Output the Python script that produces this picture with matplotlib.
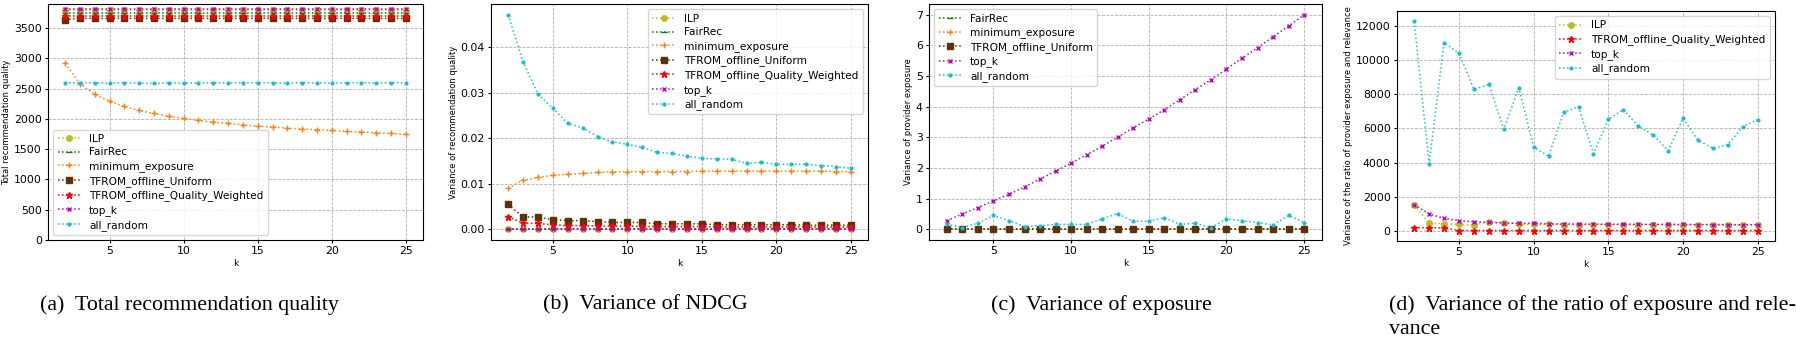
import numpy as np
import matplotlib.pyplot as plt

k = list(range(2, 26))

# (a) total recommendation quality
quality_ilp = [3808] * 24
quality_fairrec = [3752] * 24
quality_min_exp = [2917, 2586, 2405, 2295, 2207, 2141, 2091, 2042, 2009, 1976, 1948, 1926,
                   1904, 1882, 1866, 1849, 1833, 1822, 1811, 1794, 1783, 1772, 1761, 1744]
quality_tfrom_u = [3643] + [3662] * 23
quality_tfrom_qw = [3703] * 24
quality_top_k = [3813] * 24
quality_random = [2600, 2595, 2600, 2590, 2600, 2592, 2588, 2598, 2592, 2598, 2597, 2596,
                  2600, 2597, 2598, 2592, 2600, 2598, 2592, 2598, 2600, 2593, 2600, 2600]

# (b) variance of NDCG
ndcg_ilp = [0.0] * 24
ndcg_fairrec = [0.0] * 24
ndcg_min_exp = [0.0090, 0.0108, 0.0114, 0.0119, 0.0121, 0.0123, 0.0125, 0.0126, 0.0127, 0.0127,
                0.0127, 0.0127, 0.0127, 0.0128, 0.0128, 0.0128, 0.0128, 0.0128, 0.0128, 0.0128,
                0.0128, 0.0128, 0.0127, 0.0127]
ndcg_tfrom_u = [0.0055, 0.0027, 0.0027, 0.0021, 0.0019, 0.0019, 0.0017, 0.0015, 0.0015, 0.0015,
                0.0012, 0.0012, 0.0012, 0.0012, 0.0010, 0.0010, 0.0010, 0.0010, 0.0010, 0.0010,
                0.0009, 0.0009, 0.0009, 0.0009]
ndcg_tfrom_qw = [0.0028, 0.0013, 0.0013, 0.0010, 0.0008, 0.0008, 0.0007, 0.0007, 0.0007, 0.0006,
                 0.0006, 0.0006, 0.0006, 0.0006, 0.0005, 0.0005, 0.0005, 0.0005, 0.0005, 0.0005,
                 0.0005, 0.0005, 0.0005, 0.0005]
ndcg_top_k = [0.0] * 24
ndcg_random = [0.0472, 0.0369, 0.0297, 0.0266, 0.0233, 0.0223, 0.0204, 0.0192, 0.0187, 0.0180,
               0.0169, 0.0167, 0.0161, 0.0156, 0.0155, 0.0154, 0.0145, 0.0147, 0.0143, 0.0143,
               0.0143, 0.0140, 0.0138, 0.0134]

# (c) variance of exposure
exp_fairrec = [0.0] * 24
exp_min_exp = [0.0] * 24
exp_tfrom_u = [0.0] * 24
exp_top_k = [0.28, 0.50, 0.71, 0.93, 1.14, 1.38, 1.64, 1.90, 2.16, 2.43, 2.71, 3.01,
             3.31, 3.60, 3.90, 4.23, 4.56, 4.88, 5.23, 5.58, 5.92, 6.28, 6.63, 7.00]
exp_random = [0.17, 0.05, 0.20, 0.45, 0.28, 0.09, 0.11, 0.16, 0.16, 0.16, 0.34, 0.51,
              0.26, 0.27, 0.38, 0.16, 0.20, 0.05, 0.34, 0.28, 0.22, 0.14, 0.45, 0.22]

# (d) variance of exposure / relevance ratio
ratio_ilp = [1500, 470, 400, 370, 340, 520, 480, 390, 370, 365, 360, 360,
             358, 356, 355, 354, 353, 352, 351, 350, 350, 350, 350, 350]
ratio_tfrom_qw = [170, 180, 160, 10, 10, 10, 10, 10, 10, 10, 10, 10,
                  10, 10, 10, 10, 10, 10, 10, 10, 10, 10, 10, 10]
ratio_top_k = [1532, 982, 727, 589, 530, 491, 452, 432, 432, 400, 395, 390,
               385, 380, 378, 375, 372, 370, 366, 362, 360, 358, 355, 352]
ratio_random = [12275, 3928, 11038, 10409, 8288, 8582, 5951, 8386, 4910, 4360, 6953, 7267,
                4517, 6540, 7110, 6128, 5617, 4694, 6599, 5303, 4831, 5047, 6108, 6520]

captions = ["(a)  Total recommendation quality", "(b)  Variance of NDCG",
            "(c)  Variance of exposure",
            "(d)  Variance of the ratio of exposure and rele-\nvance"]

styles = {
    "ILP": dict(color="#bcbd22", marker="o", ms=4),
    "FairRec": dict(color="green", marker="_", ms=5),
    "minimum_exposure": dict(color="#ff7f0e", marker="+", ms=4.5),
    "TFROM_offline_Uniform": dict(color="#5c3306", marker="s", ms=4.5),
    "TFROM_offline_Quality_Weighted": dict(color="red", marker="*", ms=4.5),
    "top_k": dict(color="m", marker="x", ms=3.5),
    "all_random": dict(color="#17becf", marker=".", ms=4),
}

fig = plt.figure(figsize=(17.96, 3.41), dpi=100)
W, H = 1796, 341
boxes = [(48, 423, 4, 240), (491, 868, 4, 240), (929, 1322, 4, 240), (1397, 1775, 11, 241)]
axes = []
for l, r, t, b in boxes:
    axes.append(fig.add_axes([l / W, 1 - b / H, (r - l) / W, (b - t) / H]))


def draw(ax, series, ylabel, loc, line_colors=None):
    for name, vals in series:
        st = dict(styles[name])
        if line_colors and name in line_colors:
            st["mfc"] = st["mec"] = st["color"]
            st["color"] = line_colors[name]
        ax.plot(k, vals, linestyle=":", linewidth=1.1, label=name, **st)
    ax.set_xlabel("k", fontsize=6.5, labelpad=2)
    ax.set_ylabel(ylabel, fontsize=6, labelpad=2)
    ax.grid(True, linestyle="--", color="#b0b0b0", linewidth=0.6)
    ax.tick_params(labelsize=7.8, length=2.5, pad=2)
    ax.set_xticks([5, 10, 15, 20, 25])
    ax.legend(loc=loc, fontsize=7.6, handlelength=2.2, labelspacing=0.35)


draw(axes[0], [("ILP", quality_ilp), ("FairRec", quality_fairrec),
               ("minimum_exposure", quality_min_exp),
               ("TFROM_offline_Uniform", quality_tfrom_u),
               ("TFROM_offline_Quality_Weighted", quality_tfrom_qw),
               ("top_k", quality_top_k), ("all_random", quality_random)],
     "Total recommendation quality", "lower left")
axes[0].set_ylim(0, 3900)

draw(axes[1], [("ILP", ndcg_ilp), ("FairRec", ndcg_fairrec),
               ("minimum_exposure", ndcg_min_exp),
               ("TFROM_offline_Uniform", ndcg_tfrom_u),
               ("TFROM_offline_Quality_Weighted", ndcg_tfrom_qw),
               ("top_k", ndcg_top_k), ("all_random", ndcg_random)],
     "Variance of recommendation quality", "upper right")

draw(axes[2], [("FairRec", exp_fairrec), ("minimum_exposure", exp_min_exp),
               ("TFROM_offline_Uniform", exp_tfrom_u),
               ("top_k", exp_top_k), ("all_random", exp_random)],
     "Variance of provider exposure", "upper left", line_colors={"top_k": "#8e2c8e"})

draw(axes[3], [("ILP", ratio_ilp),
               ("TFROM_offline_Quality_Weighted", ratio_tfrom_qw),
               ("top_k", ratio_top_k), ("all_random", ratio_random)],
     "Variance of the ratio of provider exposure and relevance", "upper right")

cap_x = [40, 543, 991, 1389]
for x, text in zip(cap_x, captions):
    fig.text(x / W, 1 - 295 / H, text, family="Liberation Serif", fontsize=15.8,
             va="top", ha="left", linespacing=1.35)

fig.savefig("out.png", dpi=100)
